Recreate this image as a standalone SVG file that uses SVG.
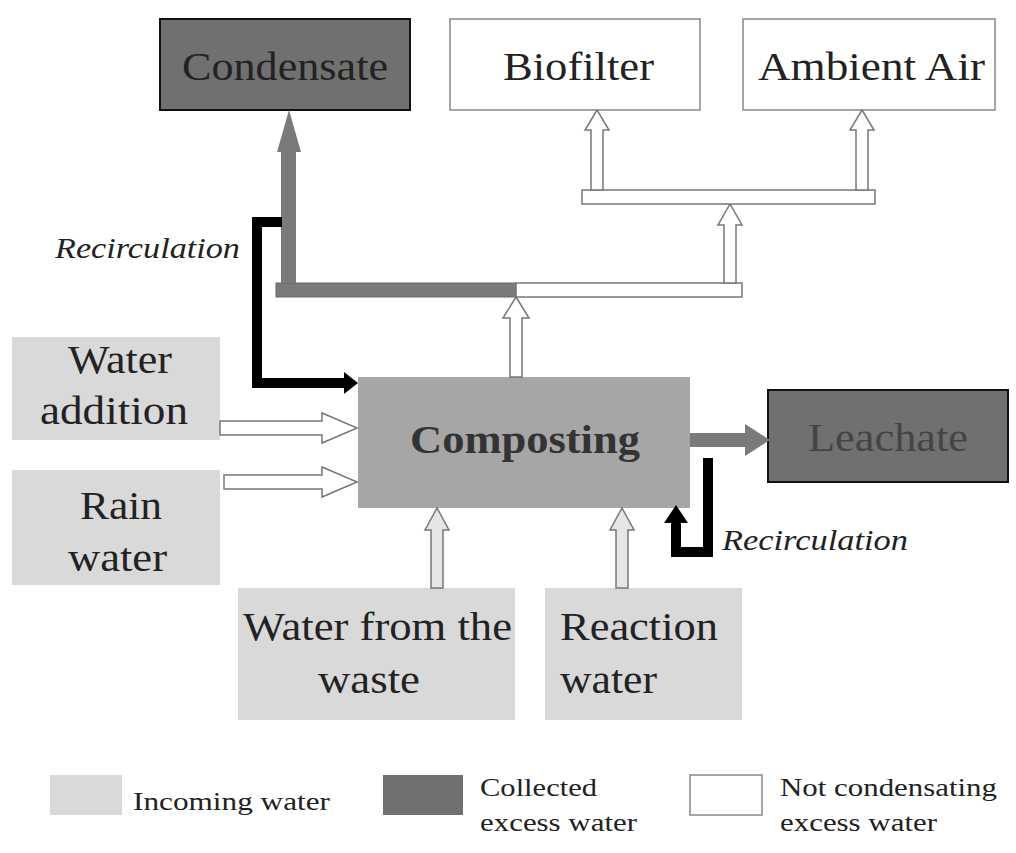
<svg xmlns="http://www.w3.org/2000/svg" width="1016" height="853" viewBox="0 0 1016 853">
<style>
text{font-family:"Liberation Serif","Times New Roman",serif;fill:#222}
.lt{fill:#d9d9d9}
.dk{fill:#707070;stroke:#111;stroke-width:2}
.wh{fill:#fff;stroke:#888;stroke-width:1.5}
.big{font-size:40px}
.ita{font-style:italic;font-size:30px}
.leg{font-size:26px}
.wa{fill:#fff;stroke:#777;stroke-width:1.5}
.la{fill:#e6e6e6;stroke:#777;stroke-width:1.5}
.ga{fill:#7a7a7a}
.rc{fill:none;stroke:#000;stroke-width:10}
</style>
<rect width="1016" height="853" fill="#fff"/>
<g id="condensate"><rect class="dk" x="160" y="19" width="250" height="91"/><text class="big" x="182" y="80" textLength="206" lengthAdjust="spacingAndGlyphs">Condensate</text></g>
<g id="biofilter"><rect class="wh" x="450" y="19" width="250" height="91"/><text class="big" x="503" y="80" textLength="151" lengthAdjust="spacingAndGlyphs">Biofilter</text></g>
<g id="ambient"><rect class="wh" x="743" y="19" width="252" height="91"/><text class="big" x="758" y="80" textLength="227" lengthAdjust="spacingAndGlyphs">Ambient Air</text></g>
<g id="water-addition"><rect class="lt" x="12" y="337" width="208" height="103"/><text class="big" x="68" y="373" textLength="104" lengthAdjust="spacingAndGlyphs">Water</text><text class="big" x="40" y="424" textLength="148" lengthAdjust="spacingAndGlyphs">addition</text></g>
<g id="rain-water"><rect class="lt" x="12" y="470" width="208" height="115"/><text class="big" x="80" y="519" textLength="82" lengthAdjust="spacingAndGlyphs">Rain</text><text class="big" x="68" y="571" textLength="99" lengthAdjust="spacingAndGlyphs">water</text></g>
<g id="composting"><rect x="358" y="377" width="332" height="131" fill="#a6a6a6"/><text class="big" x="410" y="453" font-weight="bold" style="fill:#333" textLength="230" lengthAdjust="spacingAndGlyphs">Composting</text></g>
<g id="leachate"><rect class="dk" x="768" y="390" width="240" height="92"/><text class="big" x="808" y="451" style="fill:#444" textLength="160" lengthAdjust="spacingAndGlyphs">Leachate</text></g>
<g id="water-waste"><rect class="lt" x="238" y="588" width="277" height="132"/><text class="big" x="243" y="640" textLength="269" lengthAdjust="spacingAndGlyphs">Water from the</text><text class="big" x="318" y="693" textLength="102" lengthAdjust="spacingAndGlyphs">waste</text></g>
<g id="reaction-water"><rect class="lt" x="545" y="588" width="197" height="132"/><text class="big" x="560" y="640" textLength="158" lengthAdjust="spacingAndGlyphs">Reaction</text><text class="big" x="560" y="693" textLength="97" lengthAdjust="spacingAndGlyphs">water</text></g>
<g id="connectors">
<rect x="276" y="283" width="240" height="14" fill="#7a7a7a" stroke="#666"/>
<rect class="wa" x="516" y="283" width="226" height="14"/>
<polygon class="ga" points="281,283 281,152 277,152 289,110 301,152 296,152 296,283"/>
<polygon class="wa" points="510,377 510,318 503,318 516,297 529,318 522,318 522,377"/>
<polygon class="wa" points="724,283 724,225 718,225 730,204 742,225 736,225 736,283"/>
<rect class="wa" x="582" y="190" width="293" height="14"/>
<polygon class="wa" points="591,190 591,130 585,130 597,110 609,130 603,130 603,190"/>
<polygon class="wa" points="856,190 856,130 850,130 862,110 874,130 868,130 868,190"/>
<polyline class="rc" points="282,222 257,222 257,383 345,383"/>
<polygon points="344,372 358,383 344,394" fill="#000"/>
<polygon class="wa" points="220,421 220,435 322,435 322,443 357,428 322,413 322,421"/>
<polygon class="wa" points="224,475 224,489 322,489 322,497 357,482 322,467 322,475"/>
<polygon class="ga" points="690,433 690,447 745,447 745,456 770,440 745,424 745,433"/>
<polyline class="rc" points="708,458 708,552 676,552 676,522"/>
<polygon points="664,523 676,505 688,523" fill="#000"/>
<polygon class="la" points="431,588 431,530 425,530 437,508 449,530 443,530 443,588"/>
<polygon class="la" points="616,588 616,530 610,530 622,508 634,530 628,530 628,588"/>
</g>
<text class="ita" x="55" y="258" textLength="185" lengthAdjust="spacingAndGlyphs">Recirculation</text>
<text class="ita" x="722" y="550" textLength="186" lengthAdjust="spacingAndGlyphs">Recirculation</text>
<g id="legend">
<rect class="lt" x="50" y="775" width="72" height="40"/><text class="leg" x="133" y="810" textLength="197" lengthAdjust="spacingAndGlyphs">Incoming water</text>
<rect x="383" y="775" width="80" height="40" fill="#707070"/><text class="leg" x="480" y="796" textLength="117" lengthAdjust="spacingAndGlyphs">Collected</text><text class="leg" x="480" y="831" textLength="157" lengthAdjust="spacingAndGlyphs">excess water</text>
<rect class="wh" x="690" y="775" width="72" height="40"/><text class="leg" x="780" y="796" textLength="217" lengthAdjust="spacingAndGlyphs">Not condensating</text><text class="leg" x="780" y="831" textLength="157" lengthAdjust="spacingAndGlyphs">excess water</text>
</g>
</svg>
